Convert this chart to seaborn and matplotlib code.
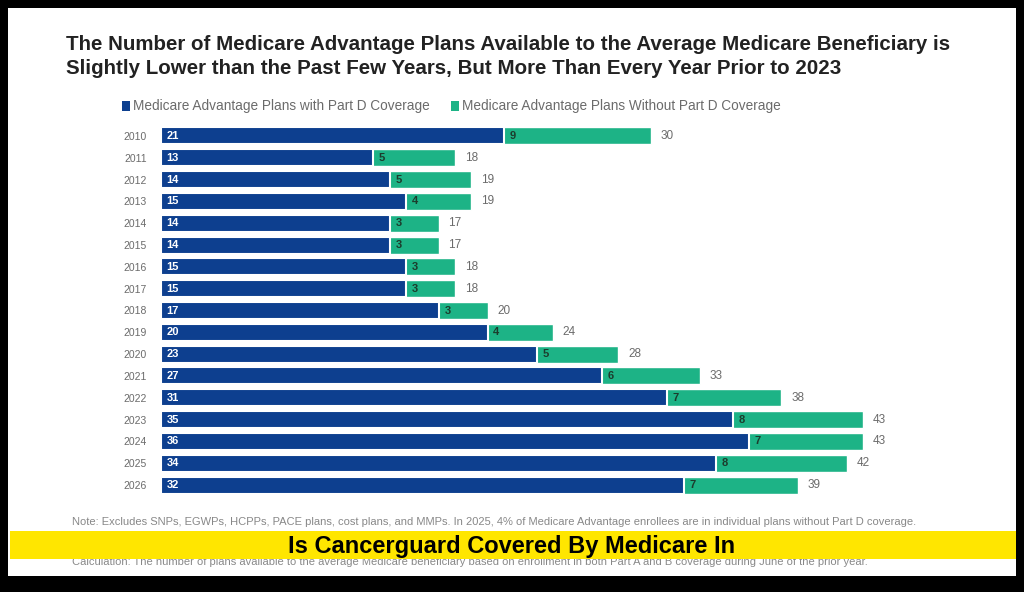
import matplotlib
matplotlib.use("Agg")
import matplotlib.pyplot as plt
from matplotlib.patches import Rectangle
import seaborn as sns
import pandas as pd

years = [str(y) for y in range(2010, 2027)]
with_part_d = [21, 13, 14, 15, 14, 14, 15, 15, 17, 20, 23, 27, 31, 35, 36, 34, 32]
without_part_d = [9, 5, 5, 4, 3, 3, 3, 3, 3, 4, 5, 6, 7, 8, 7, 8, 7]
totals = [30, 18, 19, 19, 17, 17, 18, 18, 20, 24, 28, 33, 38, 43, 43, 42, 39]

BLUE = "#0d3f8f"
GREEN = "#1db386"
GREY = "#6b6b6b"

df = pd.DataFrame({"year": years, "with_d": with_part_d,
                   "without_d": without_part_d, "total": totals})

sns.set_style("white")
plt.rcParams["font.family"] = ["Liberation Sans", "DejaVu Sans"]

W, H = 1024, 592
fig = plt.figure(figsize=(W / 100, H / 100), dpi=100, facecolor="black")

def fx(px):
    return px / W

def fy(py):
    return 1 - py / H

# white card inside the black frame
fig.patches.append(Rectangle((fx(8), fy(576)), fx(1008), (576 - 8) / H,
                             transform=fig.transFigure, facecolor="white",
                             edgecolor="none", zorder=-10))

ax = fig.add_axes([fx(161), fy(496), fx(805), (496 - 125) / H])
ax.set_facecolor("none")

# green = total, blue on top = with Part D -> stacked look
sns.barplot(data=df, x="total", y="year", orient="h", color=GREEN,
            width=0.78, ax=ax, saturation=1)
sns.barplot(data=df, x="with_d", y="year", orient="h", color=BLUE,
            width=0.78, ax=ax, saturation=1, edgecolor="white", linewidth=1.5)

for i, row in df.iterrows():
    ax.text(0.35, i, str(row.with_d), color="white", fontsize=8,
            fontweight="bold", va="center", ha="left")
    ax.text(row.with_d + 0.35, i, str(row.without_d), color="#1c3b2c",
            fontsize=8, fontweight="bold", va="center", ha="left")
    ax.text(row.total + 0.6, i, str(row.total), color=GREY, fontsize=8.5,
            va="center", ha="left")

ax.set_xlim(0, 49.3)
ax.set_ylim(16.5, -0.5)
ax.set_xlabel("")
ax.set_ylabel("")
ax.set_xticks([])
ax.tick_params(axis="y", length=0, pad=10, labelsize=7.5, labelcolor=GREY)
sns.despine(ax=ax, left=True, bottom=True)

# title
fig.text(fx(66), fy(45), "The Number of Medicare Advantage Plans Available to the Average Medicare Beneficiary is",
         fontsize=14.8, fontweight="bold", color="#222222", va="center", ha="left")
fig.text(fx(66), fy(68), "Slightly Lower than the Past Few Years, But More Than Every Year Prior to 2023",
         fontsize=14.8, fontweight="bold", color="#222222", va="center", ha="left")

# legend
fig.patches.append(Rectangle((fx(122), fy(111)), fx(8), 10 / H, transform=fig.transFigure,
                             facecolor=BLUE, edgecolor="none"))
fig.text(fx(133), fy(106), "Medicare Advantage Plans with Part D Coverage", fontsize=9.8,
         color=GREY, va="center", ha="left")
fig.patches.append(Rectangle((fx(451), fy(111)), fx(8), 10 / H, transform=fig.transFigure,
                             facecolor=GREEN, edgecolor="none"))
fig.text(fx(462), fy(106), "Medicare Advantage Plans Without Part D Coverage", fontsize=9.8,
         color=GREY, va="center", ha="left")

# notes
fig.text(fx(72), fy(522), "Note: Excludes SNPs, EGWPs, HCPPs, PACE plans, cost plans, and MMPs. In 2025, 4% of Medicare Advantage enrollees are in individual plans without Part D coverage.",
         fontsize=8, color="#888888", va="center", ha="left")
fig.text(fx(72), fy(562), "Calculation: The number of plans available to the average Medicare beneficiary based on enrollment in both Part A and B coverage during June of the prior year.",
         fontsize=8, color="#888888", va="center", ha="left")

# yellow banner
fig.patches.append(Rectangle((fx(10), fy(559)), fx(1006), 28 / H, transform=fig.transFigure,
                             facecolor="#ffe600", edgecolor="none", zorder=5))
fig.text(fx(512), fy(546), "Is Cancerguard Covered By Medicare In", fontsize=17,
         fontweight="bold", color="black", va="center", ha="center",
         family=["Liberation Sans Narrow", "Liberation Sans", "DejaVu Sans"], zorder=6)

fig.savefig("out.png", dpi=100, facecolor="black")
